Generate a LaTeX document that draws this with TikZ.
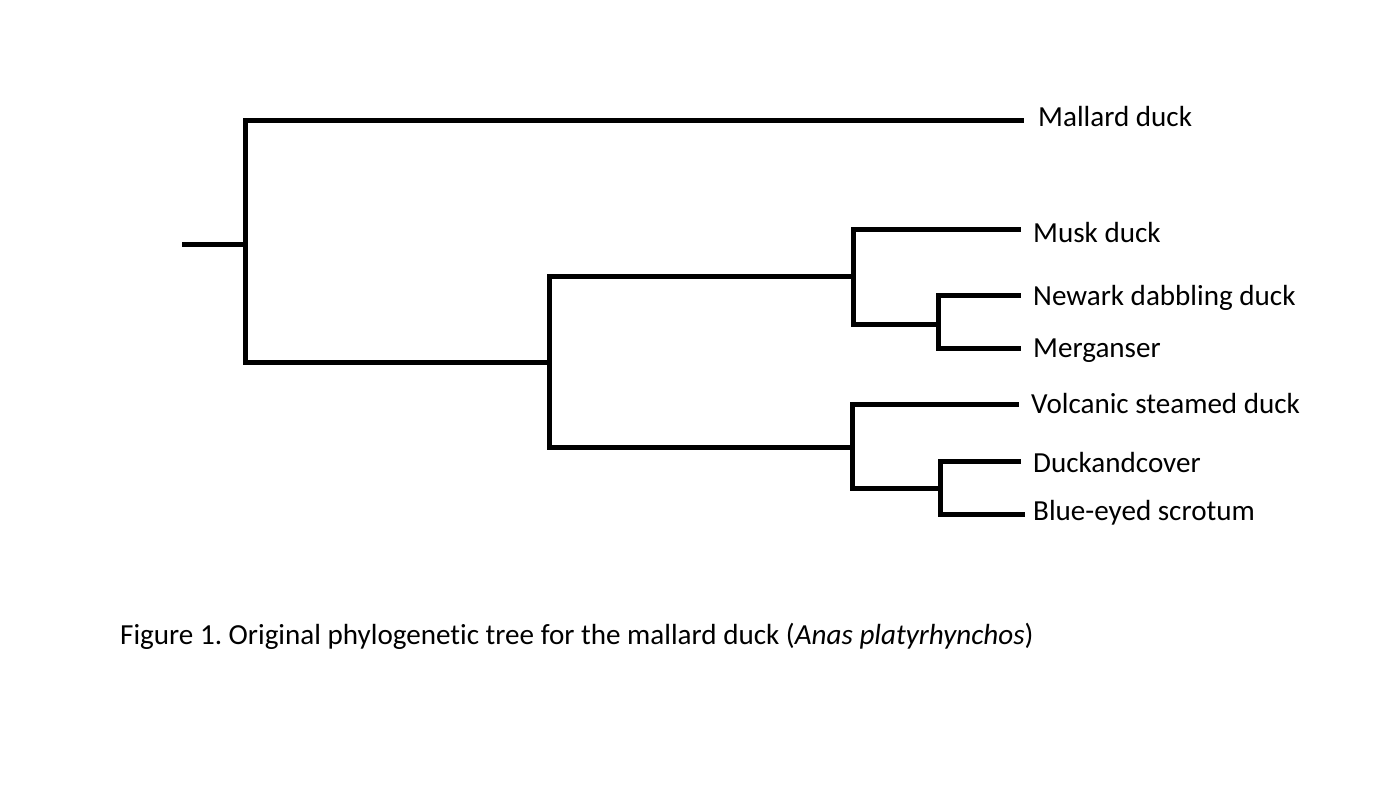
\documentclass[tikz,border=0pt]{standalone}
\usepackage{fontspec}
\setmainfont[Ligatures=NoCommon]{Carlito}
\begin{document}
\frenchspacing
\begin{tikzpicture}[x=1pt,y=-1pt,
  br/.style={line width=5pt,line cap=rect},
  lab/.style={anchor=west,inner sep=0pt,font=\fontsize{29.1}{33}\selectfont}]
\useasboundingbox (0,0) rectangle (1400,788);
% coordinates
\coordinate (root) at (182,244);
\coordinate (n0t) at (245,120);
\coordinate (n0b) at (245,362);
\coordinate (n1t) at (549,276);
\coordinate (n1b) at (549,447);
\coordinate (n2t) at (853,229);
\coordinate (n2b) at (853,324);
\coordinate (n3t) at (938,295);
\coordinate (n3b) at (938,348);
\coordinate (n4t) at (852,404);
\coordinate (n4b) at (852,488);
\coordinate (n5t) at (940,461);
\coordinate (n5b) at (940,514);
% leaves
\coordinate (l1) at (1021,120);
\coordinate (l2) at (1018,229);
\coordinate (l3) at (1018,295);
\coordinate (l4) at (1018,348);
\coordinate (l5) at (1016,404);
\coordinate (l6) at (1018,461);
\coordinate (l7) at (1022,514);
% branches
\draw[line width=5pt] (root) -- (n0t |- root);
\draw[br] (n0t) -- (n0b);
\draw[br] (n0t) -- (l1);
\draw[br] (n0b) -- (n1t |- n0b);
\draw[br] (n1t) -- (n1b);
\draw[br] (n1t) -- (n2t |- n1t);
\draw[br] (n1b) -- (n4t |- n1b);
\draw[br] (n2t) -- (n2b);
\draw[br] (n2t) -- (l2);
\draw[br] (n2b) -- (n3t |- n2b);
\draw[br] (n3t) -- (n3b);
\draw[br] (n3t) -- (l3);
\draw[br] (n3b) -- (l4);
\draw[br] (n4t) -- (n4b);
\draw[br] (n4t) -- (l5);
\draw[br] (n4b) -- (n5t |- n4b);
\draw[br] (n5t) -- (n5b);
\draw[br] (n5t) -- (l6);
\draw[br] (n5b) -- (l7);
% labels
\node[lab] (t1) at (1038,116) {Mallard duck};
\node[lab] (t2) at (1033,232) {Musk duck};
\node[lab] (t3) at (1033,298) {Newark dabbling duck};
\node[lab] (t4) at (1033,351) {Merganser};
\node[lab] (t5) at (1031,403) {Volcanic steamed duck};
\node[lab] (t6) at (1033,462) {Duckandcover};
\node[lab] (t7) at (1033,513) {Blue-eyed scrotum};
\node[lab] (cap) at (120,636) {Figure 1. Original phylogenetic tree for the mallard duck (\textit{Anas platyrhynchos})};
\end{tikzpicture}
\end{document}
